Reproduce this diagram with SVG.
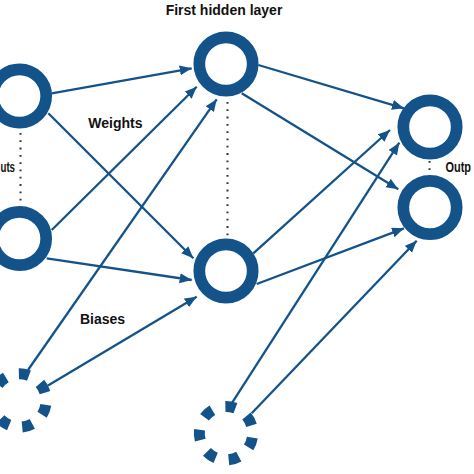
<svg xmlns="http://www.w3.org/2000/svg" width="474" height="474" viewBox="0 0 474 474">
<style>
.node{fill:none;stroke:#14538a;stroke-width:11.7}
.bias{fill:none;stroke:#14538a;stroke-width:11;stroke-dasharray:10.5 13.47}
.edge{stroke:#14538a;stroke-width:2.3;fill:none;marker-end:url(#ah)}
.dots{stroke:#333;stroke-width:2;stroke-dasharray:1.8 5.5;fill:none}
.lbl{font-family:"Liberation Sans",Arial,sans-serif;font-weight:bold;font-size:14px;fill:#111}
</style>
<defs>
<marker id="ah" markerUnits="userSpaceOnUse" markerWidth="13" markerHeight="11" refX="12" refY="5" orient="auto" viewBox="0 0 13 11">
<path d="M0,0 L12,5 L0,10 z" fill="#14538a"/>
</marker>
</defs>
<rect width="474" height="474" fill="#fff"/>
<g id="connectors">
<line class="edge" x1="51.7" y1="93.3" x2="191.7" y2="68.3"/>
<line class="edge" x1="48.3" y1="113.3" x2="193.3" y2="258.3"/>
<line class="edge" x1="51.7" y1="230" x2="196.7" y2="86.7"/>
<line class="edge" x1="46.7" y1="258.3" x2="191.7" y2="280"/>
<line class="edge" x1="28" y1="370" x2="216.7" y2="99.3"/>
<line class="edge" x1="48" y1="385.5" x2="196.7" y2="296.7"/>
<line class="edge" x1="258.3" y1="65" x2="404" y2="108.3"/>
<line class="edge" x1="241.7" y1="93.3" x2="398.3" y2="189.3"/>
<line class="edge" x1="253.3" y1="253.3" x2="390" y2="130"/>
<line class="edge" x1="256.7" y1="284" x2="404" y2="228.3"/>
<line class="edge" x1="231.7" y1="403.3" x2="399.3" y2="142.7"/>
<line class="edge" x1="251.7" y1="413.3" x2="416.7" y2="240.7"/>
<line class="dots" x1="20.5" y1="133" x2="20.5" y2="205"/>
<line class="dots" x1="227.5" y1="102" x2="227.5" y2="236"/>
<line class="dots" x1="429.5" y1="161" x2="429.5" y2="171"/>
</g>
<g id="input1"><circle class="node" cx="19.5" cy="96" r="26.7"/></g>
<g id="input2"><circle class="node" cx="19.5" cy="238.5" r="26.7"/></g>
<g id="hidden1"><circle class="node" cx="226" cy="64" r="26.7"/></g>
<g id="hidden2"><circle class="node" cx="226" cy="271" r="26.7"/></g>
<g id="output1"><circle class="node" cx="430" cy="127" r="26.7"/></g>
<g id="output2"><circle class="node" cx="430" cy="207.5" r="26.7"/></g>
<g id="bias1"><circle class="bias" cx="19.5" cy="400.5" r="26.7" transform="rotate(9.5 19.5 400.5)"/></g>
<g id="bias2"><circle class="bias" cx="226" cy="433.2" r="26.7" transform="rotate(9.5 226 433.2)"/></g>
<g id="labels">
<text class="lbl" x="224" y="15" text-anchor="middle">First hidden layer</text>
<text class="lbl" x="88.3" y="128.3">Weights</text>
<text class="lbl" x="80" y="323.5">Biases</text>
<text class="lbl" x="0.5" y="171.5" textLength="14.5" lengthAdjust="spacingAndGlyphs">uts</text>
<text class="lbl" x="445.5" y="171.7" textLength="25.5" lengthAdjust="spacingAndGlyphs">Outp</text>
</g>
</svg>
